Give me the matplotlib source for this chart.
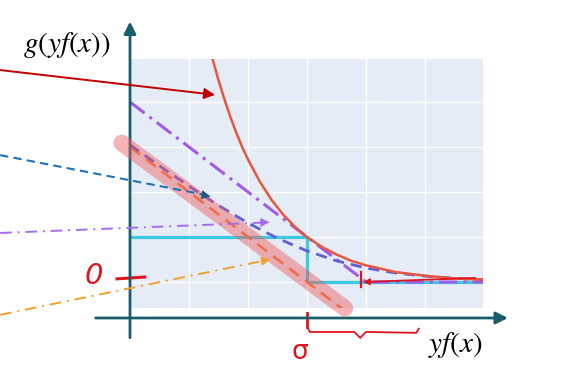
import numpy as np
import matplotlib.pyplot as plt
from matplotlib.path import Path
from matplotlib.patches import PathPatch

# ── values ─────────────────────────────────────────────────────────────────────
# exponential loss (solid red)
exp_x = [1.40, 1.50, 1.60, 1.70, 1.80, 1.90, 2.00, 2.20, 2.40, 2.60, 2.80,
         3.00, 3.25, 3.50, 3.75, 4.00, 4.50, 5.00, 5.50, 6.00]
exp_y = [4.95, 4.48, 4.06, 3.67, 3.32, 3.00, 2.72, 2.23, 1.82, 1.49, 1.22,
         1.00, 0.78, 0.61, 0.47, 0.37, 0.22, 0.14, 0.08, 0.05]
# logistic loss (blue dashed)
log_x = [0.0, 0.5, 1.0, 1.5, 2.0, 2.5, 3.0, 3.5, 4.0, 4.5, 5.0, 5.5, 6.0]
log_y = [3.05, 2.58, 2.13, 1.70, 1.31, 0.97, 0.69, 0.47, 0.31, 0.20, 0.13, 0.08, 0.05]
# hinge loss (purple dash-dot)
hinge_x = [0.0, 4.0, 6.0]
hinge_y = [4.0, 0.0, 0.0]
# linear loss (orange dashed)
lin_x = [0.0, 3.7]
lin_y = [3.0, -0.7]
# 0/1 loss (cyan step)
step_x = [0.0, 3.0, 3.0, 6.0]
step_y = [1.0, 1.0, 0.0, 0.0]

X_GRID = [1, 2, 3, 4, 5]
Y_GRID = [0, 1, 2, 3, 4]

AXIS_C = '#1B5E6B'
HAND_RED = '#E0141E'

plt.rcParams['mathtext.fontset'] = 'stix'

fig = plt.figure(figsize=(5.67, 3.66), dpi=100)
ax = fig.add_axes([130 / 567, 1 - 308 / 366, 353 / 567, 249 / 366])
ax.set_facecolor('#E5ECF6')
ax.set_xlim(0, 5.98)
ax.set_ylim(-0.578, 4.956)
for s in ax.spines.values():
    s.set_visible(False)
ax.set_xticks([])
ax.set_yticks([])
for gx in X_GRID:
    ax.axvline(gx, color='white', lw=1, zorder=0)
for gy in Y_GRID:
    ax.axhline(gy, color='white', lw=1, zorder=0)

# loss curves
ax.plot(step_x, step_y, color='#3DC9E0', lw=2.3, zorder=2)
ax.plot(lin_x, lin_y, color='#F07A3A', lw=1.8, ls=(0, (5, 3)), zorder=2)
ax.plot(hinge_x, hinge_y, color='#A259E6', lw=2.2, ls=(0, (6, 2, 1, 2)), zorder=3)
ax.plot(log_x, log_y, color='#5F5FD8', lw=2.0, ls=(0, (4, 2.5)), zorder=3)
ax.plot(exp_x, exp_y, color='#E5573F', lw=1.8, zorder=4)

# hand-drawn highlight along the linear loss
ax.plot([-0.14, 3.64], [3.09, -0.58], color='#EE5A5A', alpha=0.45, lw=12,
        solid_capstyle='round', clip_on=False, zorder=5)

# axis arrows
ax.annotate('', xy=(0, 5.85), xytext=(0, -1.3), annotation_clip=False,
            arrowprops=dict(arrowstyle='-|>', color=AXIS_C, lw=2, mutation_scale=18))
ax.annotate('', xy=(6.45, -0.8), xytext=(-0.63, -0.8), annotation_clip=False,
            arrowprops=dict(arrowstyle='-|>', color=AXIS_C, lw=2, mutation_scale=18))

# pointer arrows coming in from the left
ax.annotate('', xy=(1.44, 4.16), xytext=(-2.2, 4.71), annotation_clip=False, zorder=6,
            arrowprops=dict(arrowstyle='-|>', color='#C00000', lw=1.4,
                            mutation_scale=16, shrinkA=0, shrinkB=0))
ax.plot([-2.2, 1.3], [2.82, 1.93], color='#2171B5', lw=1.5, ls=(0, (4, 2.5)),
        clip_on=False, zorder=6)
ax.annotate('', xy=(1.41, 1.89), xytext=(1.1, 1.97), annotation_clip=False, zorder=6,
            arrowprops=dict(arrowstyle='-|>', color='#1D5B7A', lw=0.1, mutation_scale=16))
ax.plot([-2.2, 2.25], [1.09, 1.32], color='#A66BE8', lw=1.4, ls=(0, (6, 3, 1, 3)),
        clip_on=False, zorder=6)
ax.annotate('', xy=(2.41, 1.33), xytext=(2.1, 1.32), annotation_clip=False, zorder=6,
            arrowprops=dict(arrowstyle='-|>', color='#A66BE8', lw=0.1, mutation_scale=16))
ax.plot([-2.2, 2.26], [-0.73, 0.47], color='#F0A030', lw=1.4, ls=(0, (6, 3, 1, 3)),
        clip_on=False, zorder=6)
ax.annotate('', xy=(2.42, 0.51), xytext=(2.1, 0.43), annotation_clip=False, zorder=6,
            arrowprops=dict(arrowstyle='-|>', color='#F0A030', lw=0.1, mutation_scale=16))

# hand-written red marks
ax.text(-0.62, 0.14, '0', color=HAND_RED, fontsize=21, style='italic',
        family='DejaVu Sans', ha='center', va='center', clip_on=False)
ax.plot([-0.22, 0.25], [0.07, 0.11], color=HAND_RED, lw=2.2, clip_on=False)
ax.text(2.87, -1.55, 'σ', color=HAND_RED, fontsize=19,
        family='DejaVu Sans', ha='center', va='center', clip_on=False)
ax.plot([3.0, 3.0], [-0.69, -1.0], color=HAND_RED, lw=2, clip_on=False)
brace = Path([(3.0, -1.0), (3.05, -1.11), (3.8, -1.11), (3.9, -1.24),
              (4.0, -1.11), (4.85, -1.13), (4.9, -1.02)])
ax.add_patch(PathPatch(brace, fill=False, edgecolor=HAND_RED, lw=1.3, clip_on=False))
ax.annotate('', xy=(3.95, 0.0), xytext=(5.85, 0.09), annotation_clip=False, zorder=6,
            arrowprops=dict(arrowstyle='-|>', color=HAND_RED, lw=1.3, mutation_scale=9,
                            shrinkA=0, shrinkB=0))
ax.plot([3.92, 3.92], [0.22, -0.11], color=HAND_RED, lw=1.6, zorder=6)

# axis labels
fig.text(67 / 567, 1 - 45 / 366, r'$g(yf(x))$', fontsize=21,
         ha='center', va='center')
fig.text(455 / 567, 1 - 345 / 366, r'$yf(x)$', fontsize=21,
         ha='center', va='center')

fig.savefig('out.png', dpi=100)
